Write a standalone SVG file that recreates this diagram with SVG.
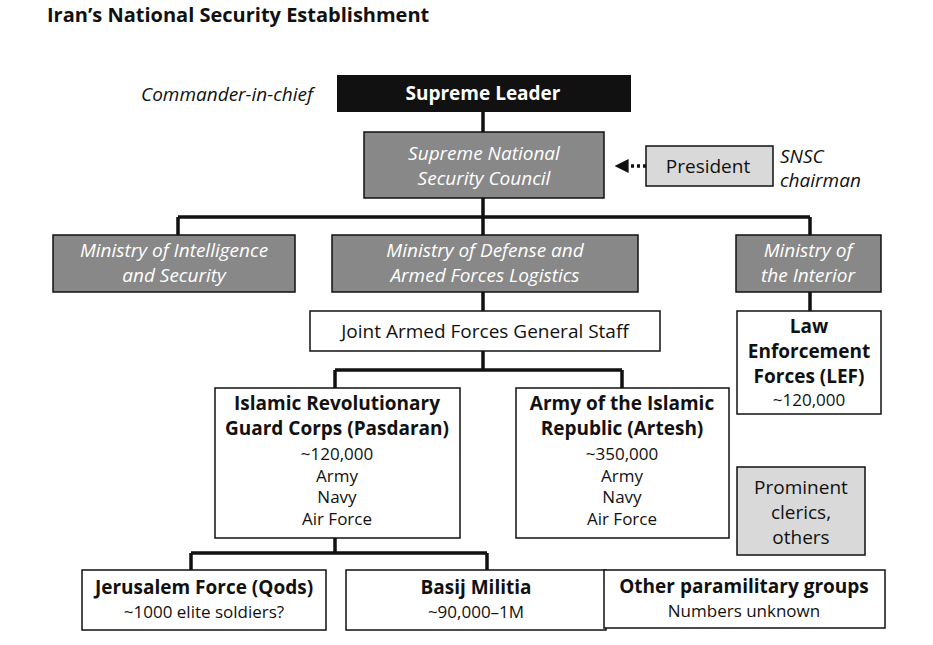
<svg xmlns="http://www.w3.org/2000/svg" width="933" height="645" viewBox="0 0 933 645">
<style>
text{font-family:"Open Sans","Noto Sans",sans-serif;font-size:19px;fill:#111;text-anchor:middle}
.b{font-weight:bold}
.i{font-style:italic}
.w{fill:#fff}
.dark{fill:#888;stroke:#111;stroke-width:1.5}
.light{fill:#d9d9d9;stroke:#111;stroke-width:1.5}
.wh{fill:#fff;stroke:#111;stroke-width:1.5}
.ln{stroke:#111;stroke-width:3.5;fill:none}
</style>
<defs><marker id="ah" viewBox="0 0 10 10" refX="9" refY="5" markerWidth="4" markerHeight="4" orient="auto"><path d="M0,0L10,5L0,10z" fill="#111"/></marker></defs>
<rect width="933" height="645" fill="#fff"/>
<text x="47" y="22" class="b" style="text-anchor:start;font-size:20px">Iran’s National Security Establishment</text>
<g id="connectors">
<path class="ln" d="M483,112V132M483,198V217M178,217H810M178,217V235M483,217V235M810,217V235M483,292V311M810,292V311M483,351V370M335,370H622M335,370V388M622,370V388M335,538V553M191,553H487M191,553V570M487,553V570"/>
<path d="M646,166H616" stroke="#111" stroke-width="3.5" stroke-dasharray="3,3" marker-end="url(#ah)"/>
</g>
<text x="227" y="101" class="i">Commander-in-chief</text>
<g id="sl"><rect x="337" y="75" width="294" height="37" fill="#111"/><text x="483" y="100" class="b w">Supreme Leader</text></g>
<g id="snsc"><rect x="364" y="132" width="240" height="66" class="dark"/><text x="484" y="160" class="i w">Supreme National</text><text x="484" y="185" class="i w">Security Council</text></g>
<g id="pres"><rect x="646" y="146" width="127" height="40" class="light"/><text x="708" y="173">President</text></g>
<text x="780" y="163" class="i" style="text-anchor:start">SNSC</text>
<text x="780" y="187" class="i" style="text-anchor:start">chairman</text>
<g id="moi"><rect x="53" y="235" width="242" height="57" class="dark"/><text x="174" y="257" class="i w">Ministry of Intelligence</text><text x="174" y="282" class="i w">and Security</text></g>
<g id="mod"><rect x="332" y="235" width="306" height="57" class="dark"/><text x="485" y="257" class="i w">Ministry of Defense and</text><text x="485" y="282" class="i w">Armed Forces Logistics</text></g>
<g id="int"><rect x="736" y="235" width="145" height="57" class="dark"/><text x="808" y="257" class="i w">Ministry of</text><text x="808" y="282" class="i w">the Interior</text></g>
<g id="jafgs"><rect x="310" y="311" width="350" height="40" class="wh"/><text x="485" y="338">Joint Armed Forces General Staff</text></g>
<g id="lef"><rect x="737" y="311" width="144" height="103" class="wh"/><text x="809" y="333" class="b">Law</text><text x="809" y="358" class="b">Enforcement</text><text x="809" y="383" class="b">Forces (LEF)</text><text x="809" y="406" style="font-size:17px">~120,000</text></g>
<g id="irgc"><rect x="215" y="388" width="245" height="150" class="wh"/><text x="337" y="410" class="b">Islamic Revolutionary</text><text x="337" y="435" class="b">Guard Corps (Pasdaran)</text><text x="337" y="460" style="font-size:17px">~120,000</text><text x="337" y="482" style="font-size:17px">Army</text><text x="337" y="503" style="font-size:17px">Navy</text><text x="337" y="525" style="font-size:17px">Air Force</text></g>
<g id="artesh"><rect x="516" y="388" width="213" height="150" class="wh"/><text x="622" y="410" class="b">Army of the Islamic</text><text x="622" y="435" class="b">Republic (Artesh)</text><text x="622" y="460" style="font-size:17px">~350,000</text><text x="622" y="482" style="font-size:17px">Army</text><text x="622" y="503" style="font-size:17px">Navy</text><text x="622" y="525" style="font-size:17px">Air Force</text></g>
<g id="clerics"><rect x="737" y="467" width="128" height="88" class="light"/><text x="801" y="494">Prominent</text><text x="801" y="519">clerics,</text><text x="801" y="544">others</text></g>
<g id="qods"><rect x="82" y="570" width="244" height="60" class="wh"/><text x="204" y="594" class="b">Jerusalem Force (Qods)</text><text x="204" y="618" style="font-size:17px">~1000 elite soldiers?</text></g>
<g id="basij"><rect x="346" y="570" width="260" height="60" class="wh"/><text x="476" y="594" class="b">Basij Militia</text><text x="476" y="618" style="font-size:17px">~90,000–1M</text></g>
<g id="other"><rect x="604" y="570" width="281" height="58" class="wh"/><text x="744" y="593" class="b">Other paramilitary groups</text><text x="744" y="617" style="font-size:17px">Numbers unknown</text></g>
</svg>
